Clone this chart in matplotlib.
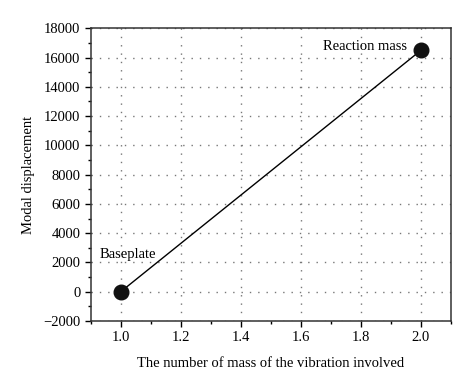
import matplotlib
matplotlib.use("Agg")
import matplotlib.pyplot as plt
from matplotlib.ticker import MultipleLocator

# данные
masses = [1.0, 2.0]
displacement = [0, 16500]
point_names = ["Baseplate", "Reaction mass"]

plt.rcParams['font.family'] = ['Liberation Serif', 'DejaVu Serif']
plt.rcParams['font.size'] = 10

fig = plt.figure(figsize=(4.74, 3.87), dpi=100)
ax = fig.add_axes([90.7 / 474, 1 - 321 / 387, (451 - 90.7) / 474, (321 - 28.3) / 387])

ax.plot(masses, displacement, color='black', lw=1.0,
        marker='o', markersize=10.5, markerfacecolor='#111111', markeredgecolor='#111111')

ax.text(0.93, 2565, point_names[0], ha='left', va='center', fontsize=10.5)
ax.text(1.955, 16730, point_names[1], ha='right', va='center', fontsize=10.5)

ax.set_xlim(0.9, 2.1)
ax.set_ylim(-2000, 18000)
ax.xaxis.set_minor_locator(MultipleLocator(0.1))
ax.yaxis.set_major_locator(MultipleLocator(2000))
ax.yaxis.set_minor_locator(MultipleLocator(1000))
ax.set_xticks([1.0, 1.2, 1.4, 1.6, 1.8, 2.0])
ax.set_xticklabels(["1.0", "1.2", "1.4", "1.6", "1.8", "2.0"])
ax.tick_params(which='major', direction='out', length=4, width=1, labelsize=10.5)
ax.tick_params(which='minor', direction='out', length=2.5, width=1)
ax.yaxis.set_major_formatter(plt.FuncFormatter(lambda v, p: f"{int(v)}".replace('-', '\u2212')))

ax.grid(True, which='major', linestyle=(0, (1, 5)), color='#777777', lw=1.0)
for s in ax.spines.values():
    s.set_linewidth(1.1)
    s.set_color('#333333')

ax.set_xlabel("The number of mass of the vibration involved", fontsize=10.5, labelpad=9)
ax.set_ylabel("Modal displacement", fontsize=10.5, labelpad=6)

fig.savefig("out.png", dpi=100)
